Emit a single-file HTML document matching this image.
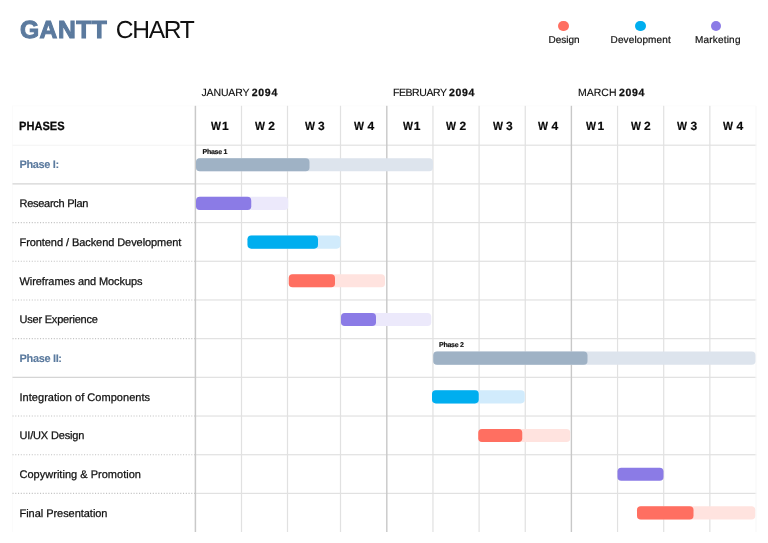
<!DOCTYPE html>
<html lang="en"><head><meta charset="utf-8"><title>Gantt Chart</title>
<style>
html,body{margin:0;padding:0;background:#fff;}
body{width:768px;height:543px;position:relative;overflow:hidden;font-family:"Liberation Sans",sans-serif;color:#111;text-rendering:geometricPrecision;}
.abs{position:absolute;white-space:nowrap;line-height:1;}
.title{left:19.9px;top:18.5px;font-size:24.6px;letter-spacing:-1.3px;word-spacing:2.9px;}
.title b{color:#5b7a9e;font-weight:bold;letter-spacing:0.55px;-webkit-text-stroke:1.05px #5b7a9e;}
.lg{font-size:10px;transform:translateX(-50%);top:36.4px;color:#111;-webkit-text-stroke:0.2px #111;}
.dot{position:absolute;width:10.5px;height:10.5px;border-radius:50%;top:20.5px;}
.mon{font-size:10.5px;top:88px;color:#111;word-spacing:-0.5px;-webkit-text-stroke:0.15px #111}
.mon b{font-weight:bold;letter-spacing:0.7px;-webkit-text-stroke:0.25px #111;}
.wk{font-size:12px;font-weight:bold;top:120px;transform:translateX(-50%);word-spacing:-1.2px;color:#0a0a0a;-webkit-text-stroke:0.2px #0a0a0a;}
.wk .w{display:inline-block;transform:scaleX(0.88);transform-origin:0 50%;}
.row{left:19.5px;font-size:11px;color:#111;-webkit-text-stroke:0.25px #111;}
.row.ph{font-weight:bold;color:#5b7a9e;-webkit-text-stroke:0.1px #5b7a9e;}
.hd{left:19.4px;top:120px;font-size:12px;font-weight:bold;color:#0a0a0a;letter-spacing:0;-webkit-text-stroke:0.25px #0a0a0a;transform:scaleX(0.925);transform-origin:0 0;}
.tiny{font-size:7px;font-weight:bold;color:#111;letter-spacing:-0.25px;-webkit-text-stroke:0.2px #111;}
</style></head><body>
<div id="stage" style="position:absolute;left:0;top:0;width:768px;height:543px;will-change:transform;">
<div class="abs title"><b>GANTT</b> CHART</div>
<span class="dot" style="left:558px;background:#ff6f61"></span>
<span class="dot" style="left:635.2px;background:#00aeef"></span>
<span class="dot" style="left:710.7px;background:#8b7be6"></span>
<div class="abs lg" style="left:564.1px;letter-spacing:0px">Design</div>
<div class="abs lg" style="left:640.7px;letter-spacing:0.12px">Development</div>
<div class="abs lg" style="left:717.8px;letter-spacing:0.2px">Marketing</div>
<div class="abs mon" style="left:201.5px"><span style="letter-spacing:-0.14px">JANUARY</span> <b>2094</b></div>
<div class="abs mon" style="left:393px"><span style="letter-spacing:-0.44px">FEBRUARY</span> <b>2094</b></div>
<div class="abs mon" style="left:578px">MARCH <b>2094</b></div>
<div class="abs hd">PHASES</div>
<div class="abs wk" style="left:219.8px;word-spacing:-3.4px"><span class="w">W</span> 1</div>
<div class="abs wk" style="left:264.9px"><span class="w">W</span> 2</div>
<div class="abs wk" style="left:314.5px"><span class="w">W</span> 3</div>
<div class="abs wk" style="left:364.2px"><span class="w">W</span> 4</div>
<div class="abs wk" style="left:411.5px;word-spacing:-3.4px"><span class="w">W</span> 1</div>
<div class="abs wk" style="left:456.2px"><span class="w">W</span> 2</div>
<div class="abs wk" style="left:502.5px"><span class="w">W</span> 3</div>
<div class="abs wk" style="left:548.2px"><span class="w">W</span> 4</div>
<div class="abs wk" style="left:595.2px;word-spacing:-3.4px"><span class="w">W</span> 1</div>
<div class="abs wk" style="left:640.7px"><span class="w">W</span> 2</div>
<div class="abs wk" style="left:687.2px"><span class="w">W</span> 3</div>
<div class="abs wk" style="left:733px"><span class="w">W</span> 4</div>
<svg class="grid" width="768" height="543" viewBox="0 0 768 543" style="position:absolute;left:0;top:0">
<rect x="12" y="105.8" width="1" height="426.2" fill="#fbfbfb"/>
<rect x="12" y="105.3" width="744" height="1" fill="#fcfcfc"/>
<rect x="195" y="144.60" width="561.3" height="1.2" fill="#e1e1e1"/>
<rect x="12.5" y="144.70" width="182.5" height="1" fill="#f3f3f3"/>
<rect x="195" y="183.29" width="561.3" height="1.2" fill="#e1e1e1"/>
<rect x="12.5" y="183.29" width="182.5" height="1.2" fill="#d3d3d3"/>
<rect x="195" y="221.98" width="561.3" height="1.2" fill="#e1e1e1"/>
<line x1="12.5" x2="195" y1="222.58" y2="222.58" stroke="#c4c4c4" stroke-width="1.1" stroke-dasharray="1.1 1.65"/>
<rect x="195" y="260.67" width="561.3" height="1.2" fill="#e1e1e1"/>
<line x1="12.5" x2="195" y1="261.27" y2="261.27" stroke="#c4c4c4" stroke-width="1.1" stroke-dasharray="1.1 1.65"/>
<rect x="195" y="299.36" width="561.3" height="1.2" fill="#e1e1e1"/>
<line x1="12.5" x2="195" y1="299.96" y2="299.96" stroke="#c4c4c4" stroke-width="1.1" stroke-dasharray="1.1 1.65"/>
<rect x="195" y="338.05" width="561.3" height="1.2" fill="#e1e1e1"/>
<line x1="12.5" x2="195" y1="338.65" y2="338.65" stroke="#c4c4c4" stroke-width="1.1" stroke-dasharray="1.1 1.65"/>
<rect x="195" y="376.74" width="561.3" height="1.2" fill="#e1e1e1"/>
<rect x="12.5" y="376.74" width="182.5" height="1.2" fill="#d3d3d3"/>
<rect x="195" y="415.43" width="561.3" height="1.2" fill="#e1e1e1"/>
<line x1="12.5" x2="195" y1="416.03" y2="416.03" stroke="#c4c4c4" stroke-width="1.1" stroke-dasharray="1.1 1.65"/>
<rect x="195" y="454.12" width="561.3" height="1.2" fill="#e1e1e1"/>
<line x1="12.5" x2="195" y1="454.72" y2="454.72" stroke="#c4c4c4" stroke-width="1.1" stroke-dasharray="1.1 1.65"/>
<rect x="195" y="492.81" width="561.3" height="1.2" fill="#e1e1e1"/>
<line x1="12.5" x2="195" y1="493.41" y2="493.41" stroke="#c4c4c4" stroke-width="1.1" stroke-dasharray="1.1 1.65"/>
<rect x="194.65" y="105.8" width="1.5" height="426.2" fill="#c9c9c9"/>
<rect x="240.90" y="105.8" width="1.2" height="426.2" fill="#e1e1e1"/>
<rect x="286.90" y="105.8" width="1.2" height="426.2" fill="#e1e1e1"/>
<rect x="339.90" y="105.8" width="1.2" height="426.2" fill="#e1e1e1"/>
<rect x="386.10" y="105.8" width="1.4" height="426.2" fill="#c8c8c8"/>
<rect x="432.35" y="105.8" width="1.2" height="426.2" fill="#e1e1e1"/>
<rect x="478.50" y="105.8" width="1.2" height="426.2" fill="#e1e1e1"/>
<rect x="524.65" y="105.8" width="1.2" height="426.2" fill="#e1e1e1"/>
<rect x="570.70" y="105.8" width="1.4" height="426.2" fill="#c8c8c8"/>
<rect x="616.95" y="105.8" width="1.2" height="426.2" fill="#e1e1e1"/>
<rect x="663.10" y="105.8" width="1.2" height="426.2" fill="#e1e1e1"/>
<rect x="709.25" y="105.8" width="1.2" height="426.2" fill="#e1e1e1"/>
<rect x="755.50" y="105.8" width="1.0" height="426.2" fill="#f7f7f7"/>
<rect x="196.0" y="158.15" width="237.00" height="13.1" rx="3.8" fill="#dde4ed"/>
<rect x="196.0" y="158.15" width="113.50" height="13.1" rx="3.8" fill="#9fb2c5"/>
<rect x="196.0" y="196.84" width="92.25" height="13.1" rx="3.8" fill="#ece9fb"/>
<rect x="196.0" y="196.84" width="55.25" height="13.1" rx="3.8" fill="#8b7be6"/>
<rect x="247.5" y="235.53" width="93.00" height="13.1" rx="3.8" fill="#d1ebfc"/>
<rect x="247.5" y="235.53" width="70.50" height="13.1" rx="3.8" fill="#00aeef"/>
<rect x="288.75" y="274.22" width="96.25" height="13.1" rx="3.8" fill="#ffe3df"/>
<rect x="288.75" y="274.22" width="46.25" height="13.1" rx="3.8" fill="#ff6f61"/>
<rect x="341" y="312.91" width="90.25" height="13.1" rx="3.8" fill="#ece9fb"/>
<rect x="341" y="312.91" width="35.00" height="13.1" rx="3.8" fill="#8b7be6"/>
<rect x="433.25" y="351.60" width="322.25" height="13.1" rx="3.8" fill="#dde4ed"/>
<rect x="433.25" y="351.60" width="154.25" height="13.1" rx="3.8" fill="#9fb2c5"/>
<rect x="432" y="390.29" width="92.75" height="13.1" rx="3.8" fill="#d1ebfc"/>
<rect x="432" y="390.29" width="46.75" height="13.1" rx="3.8" fill="#00aeef"/>
<rect x="478.25" y="428.98" width="92.00" height="13.1" rx="3.8" fill="#ffe3df"/>
<rect x="478.25" y="428.98" width="44.00" height="13.1" rx="3.8" fill="#ff6f61"/>
<rect x="617.5" y="467.67" width="46.00" height="13.1" rx="3.8" fill="#8b7be6"/>
<rect x="637" y="506.36" width="118.25" height="13.1" rx="3.8" fill="#ffe3df"/>
<rect x="637" y="506.36" width="56.50" height="13.1" rx="3.8" fill="#ff6f61"/>
</svg>
<div class="abs row ph" style="top:159.90px;letter-spacing:-0.37px">Phase I:</div>
<div class="abs row" style="top:199.20px;letter-spacing:-0.27px">Research Plan</div>
<div class="abs row" style="top:237.90px;letter-spacing:-0.07px">Frontend / Backend Development</div>
<div class="abs row" style="top:276.60px;letter-spacing:-0.08px">Wireframes and Mockups</div>
<div class="abs row" style="top:315.30px;letter-spacing:-0.21px">User Experience</div>
<div class="abs row ph" style="top:354.00px;letter-spacing:-0.34px">Phase II:</div>
<div class="abs row" style="top:392.70px;letter-spacing:0.04px">Integration of Components</div>
<div class="abs row" style="top:431.40px;letter-spacing:-0.16px">UI/UX Design</div>
<div class="abs row" style="top:470.10px;letter-spacing:0.02px">Copywriting &amp; Promotion</div>
<div class="abs row" style="top:508.80px;letter-spacing:-0.04px">Final Presentation</div>
<div class="abs tiny" style="left:202.5px;top:148.5px">Phase 1</div>
<div class="abs tiny" style="left:439px;top:342.2px">Phase 2</div>
</div>
</body></html>
